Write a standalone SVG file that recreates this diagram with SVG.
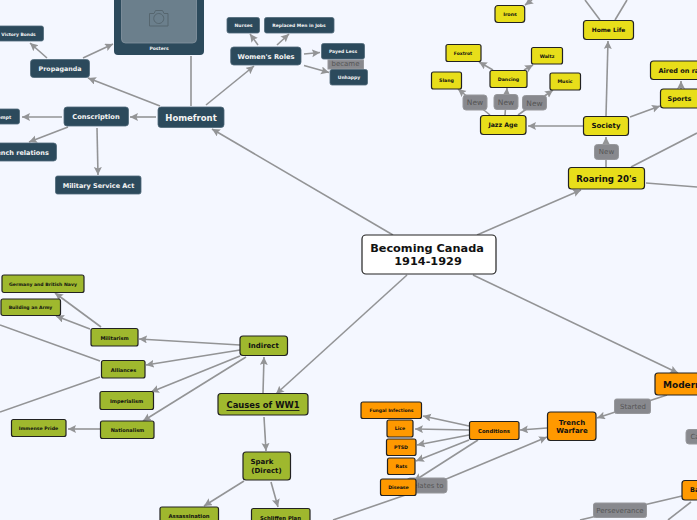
<svg xmlns="http://www.w3.org/2000/svg" width="697" height="520" viewBox="0 0 697 520">
<style>
text{font-family:"DejaVu Sans",Verdana,sans-serif;font-weight:700;text-anchor:middle;dominant-baseline:central}
.c line{stroke:#939496;stroke-width:1.600;fill:none}
.a{marker-end:url(#arr)}
.b rect{fill:#2c4a5c;stroke:#4f6878;stroke-width:.8}
.b text{fill:#f4f4f4}
.y rect{fill:#e8de1a;stroke:#222;stroke-width:1.200}
.y text{fill:#111}
.g rect{fill:#9fb82e;stroke:#222;stroke-width:1.200}
.g text{fill:#111}
.o rect{fill:#ff9900;stroke:#222;stroke-width:1.200}
.o text{fill:#111}
.l rect{fill:#88898e;stroke:#97989c;stroke-width:1}
.l text{fill:#555;font-weight:400}
</style>
<defs>
<marker id="arr" markerUnits="userSpaceOnUse" markerWidth="10" markerHeight="10" refX="8" refY="4" orient="auto"><path d="M0 0L8 4L0 8L1.500 4Z" fill="#939496"/></marker>
</defs>
<rect width="697" height="520" fill="#f4f7ff"/>
<g id="connectors" class="c">
<line class="a" x1="393" y1="235" x2="212" y2="129"/>
<line class="a" x1="477" y1="235" x2="581" y2="190"/>
<line class="a" x1="407" y1="275" x2="276" y2="394"/>
<line class="a" x1="473" y1="275" x2="678" y2="373"/>
<line class="a" x1="160" y1="106" x2="88" y2="78"/>
<line x1="191" y1="56" x2="191" y2="106"/>
<line class="a" x1="156" y1="117" x2="130" y2="117"/>
<line class="a" x1="206" y1="105" x2="254" y2="66"/>
<line class="a" x1="47" y1="58" x2="30" y2="43"/>
<line class="a" x1="83" y1="58" x2="113" y2="44"/>
<line class="a" x1="62" y1="117" x2="22" y2="117"/>
<line class="a" x1="68" y1="127" x2="29" y2="142"/>
<line class="a" x1="97" y1="128" x2="98" y2="175"/>
<line class="a" x1="258" y1="45" x2="250" y2="34"/>
<line class="a" x1="277" y1="45" x2="289" y2="34"/>
<line class="a" x1="304" y1="54" x2="320" y2="52.500"/>
<line class="a" x1="304" y1="65.500" x2="329" y2="72.500"/>
<line class="a" x1="606" y1="116" x2="608" y2="41"/>
<line x1="600" y1="20" x2="585" y2="0"/>
<line x1="615" y1="20" x2="627" y2="0"/>
<line class="a" x1="532" y1="0" x2="525" y2="5"/>
<line class="a" x1="583" y1="126" x2="528" y2="126"/>
<line class="a" x1="630" y1="117" x2="660" y2="106"/>
<line class="a" x1="681" y1="89" x2="681" y2="81"/>
<line class="a" x1="606" y1="167" x2="606" y2="137"/>
<line x1="631" y1="167" x2="697" y2="133"/>
<line x1="646" y1="183" x2="697" y2="187"/>
<line class="a" x1="490" y1="115" x2="458" y2="89"/>
<line class="a" x1="505" y1="115" x2="507" y2="88"/>
<line class="a" x1="518" y1="115" x2="553" y2="90"/>
<line class="a" x1="493" y1="70" x2="479" y2="62"/>
<line class="a" x1="524" y1="70" x2="533" y2="65"/>
<line class="a" x1="240" y1="345" x2="139" y2="339"/>
<line class="a" x1="240" y1="350" x2="146" y2="365"/>
<line class="a" x1="240" y1="356" x2="151" y2="392"/>
<line class="a" x1="246" y1="357" x2="143" y2="421"/>
<line class="a" x1="263" y1="393" x2="264" y2="357"/>
<line class="a" x1="264" y1="417" x2="266" y2="451"/>
<line class="a" x1="244" y1="481" x2="204" y2="506"/>
<line class="a" x1="271" y1="482" x2="278" y2="507"/>
<line class="a" x1="101" y1="327" x2="55" y2="293"/>
<line class="a" x1="90" y1="329" x2="56" y2="316"/>
<line x1="100" y1="361" x2="0" y2="325"/>
<line x1="100" y1="377" x2="0" y2="412"/>
<line class="a" x1="100" y1="429" x2="68" y2="429"/>
<line class="a" x1="667" y1="395" x2="597" y2="418"/>
<line class="a" x1="547" y1="428" x2="520" y2="430"/>
<line class="a" x1="469" y1="426" x2="423" y2="416"/>
<line class="a" x1="469" y1="430" x2="415" y2="429"/>
<line class="a" x1="469" y1="435" x2="417" y2="445"/>
<line class="a" x1="469" y1="440" x2="416" y2="461"/>
<line class="a" x1="478" y1="440" x2="414" y2="481"/>
<line x1="333" y1="520" x2="420" y2="490"/>
<line class="a" x1="420" y1="490" x2="547" y2="437"/>
<line x1="682" y1="496" x2="580" y2="520"/>
<line x1="691" y1="502" x2="668" y2="520"/>
</g>
<g id="labels" class="l">
<g id="lbl-became"><rect x="328" y="60" width="35.500" height="9"/><text x="345.500" y="64" font-size="7">became</text></g>
<g id="lbl-new1"><rect x="463" y="95" width="24" height="15" rx="3"/><text x="475" y="102.500" font-size="7.500">New</text></g>
<g id="lbl-new2"><rect x="494" y="94.500" width="24" height="15" rx="3"/><text x="506" y="102" font-size="7.500">New</text></g>
<g id="lbl-new3"><rect x="522.500" y="95.500" width="24" height="14.500" rx="3"/><text x="534.500" y="103" font-size="7.500">New</text></g>
<g id="lbl-new4"><rect x="594.500" y="144.500" width="24" height="15" rx="3"/><text x="606.500" y="152" font-size="7">New</text></g>
<g id="lbl-started"><rect x="614.500" y="399" width="36" height="14.500" rx="2"/><text x="633" y="406.500" font-size="7">Started</text></g>
<g id="lbl-relates"><rect x="407" y="478" width="40" height="15" rx="3"/><text x="427" y="485.500" font-size="7">relates to</text></g>
<g id="lbl-perseverance"><rect x="593.500" y="503" width="53" height="14.500" rx="2"/><text x="620" y="510.500" font-size="7">Perseverance</text></g>
<g id="lbl-ca"><rect x="686" y="429.500" width="20" height="14.500" rx="3"/><text x="695" y="437" font-size="7">Ca</text></g>
</g>
<g class="b">
<g id="n-posters"><rect x="114" y="-10" width="90" height="65" rx="4" style="stroke:none"/><rect x="121.500" y="-10" width="75" height="53" rx="4" style="fill:#6b7f8c;stroke:#8696a1"/><path d="M149.500 13.500h4.500l1.500-3h7l1.500 3h4v12.500h-18.500z M158.700 13.500a5 5 0 1 0 0.100 0z" fill="none" stroke="#56666f" stroke-width="1"/><text x="159" y="48" font-size="4.500">Posters</text></g>
<g id="n-homefront"><rect x="158" y="107" width="66" height="20.500" rx="3"/><text x="191" y="117.500" font-size="8.500">Homefront</text></g>
<g id="n-conscription"><rect x="64" y="107" width="64.500" height="19" rx="3"/><text x="96" y="116.500" font-size="6.700">Conscription</text></g>
<g id="n-propaganda"><rect x="30.500" y="59.500" width="59" height="18" rx="3"/><text x="60" y="68.500" font-size="6.300">Propaganda</text></g>
<g id="n-victory"><rect x="-10" y="26" width="53.500" height="15" rx="2"/><text x="18.500" y="34" font-size="4.400">Victory Bonds</text></g>
<g id="n-exempt"><rect x="-20" y="109" width="39.500" height="15" rx="2"/><text x="1" y="117" font-size="4.800">Exempt</text></g>
<g id="n-french"><rect x="-30" y="143" width="86.500" height="18" rx="3"/><text x="19" y="152.500" font-size="6.500">French relations</text></g>
<g id="n-msa"><rect x="55.500" y="176" width="85.500" height="18" rx="2"/><text x="98.500" y="185.500" font-size="6.500">Military Service Act</text></g>
<g id="n-women"><rect x="230.700" y="47" width="70.300" height="18" rx="3"/><text x="266" y="56.500" font-size="6.700">Women's Roles</text></g>
<g id="n-nurses"><rect x="227" y="17.500" width="32.500" height="15.500" rx="2"/><text x="243.500" y="25.500" font-size="4.600">Nurses</text></g>
<g id="n-replaced"><rect x="264.500" y="17.500" width="69.500" height="15.500" rx="2"/><text x="299" y="25.500" font-size="4.450">Replaced Men in Jobs</text></g>
<g id="n-payed"><rect x="321.500" y="43.500" width="43" height="15.500" rx="2"/><text x="343" y="51.500" font-size="4.500">Payed Less</text></g>
<g id="n-unhappy"><rect x="330" y="69.500" width="37.500" height="15.500" rx="2"/><text x="349" y="77.500" font-size="4.500">Unhappy</text></g>
</g>
<g class="y">
<g id="n-irons"><rect x="495" y="5.500" width="29.700" height="17" rx="3"/><text x="510" y="14" font-size="4.800">Irons</text></g>
<g id="n-homelife"><rect x="583.500" y="20.500" width="50" height="19" rx="3"/><text x="608.500" y="29.500" font-size="5.900">Home Life</text></g>
<g id="n-foxtrot"><rect x="446" y="44.500" width="35" height="17" rx="2"/><text x="463" y="53" font-size="4.500">Foxtrot</text></g>
<g id="n-waltz"><rect x="531.500" y="47.500" width="31" height="16.500" rx="2"/><text x="547" y="56" font-size="4.700">Waltz</text></g>
<g id="n-slang"><rect x="431.500" y="72" width="30" height="17" rx="2"/><text x="446.500" y="80" font-size="4.700">Slang</text></g>
<g id="n-dancing"><rect x="490" y="70.500" width="37" height="17" rx="2"/><text x="508.500" y="79" font-size="4.700">Dancing</text></g>
<g id="n-music"><rect x="550" y="73" width="30.500" height="17" rx="2"/><text x="565" y="81" font-size="4.700">Music</text></g>
<g id="n-jazz"><rect x="480.500" y="115.500" width="45.500" height="19" rx="3"/><text x="503" y="124.500" font-size="6.200">Jazz Age</text></g>
<g id="n-society"><rect x="583.500" y="116.500" width="45" height="19" rx="3"/><text x="606" y="126" font-size="7">Society</text></g>
<g id="n-sports"><rect x="660.500" y="89" width="50" height="19" rx="3"/><text x="679.500" y="98.500" font-size="6.500">Sports</text></g>
<g id="n-radio"><rect x="650.500" y="61" width="80" height="18.500" rx="3"/><text x="658.500" y="71" font-size="6.500" style="text-anchor:start">Aired on radio</text></g>
<g id="n-roaring"><rect x="568.500" y="167.500" width="76" height="21.500" rx="3"/><text x="606.500" y="178.500" font-size="8.600">Roaring 20's</text></g>
</g>
<g class="g">
<g id="n-navy"><rect x="2" y="275" width="82" height="17.500" rx="2"/><text x="43" y="284" font-size="4.600">Germany and British Navy</text></g>
<g id="n-army"><rect x="1" y="299" width="59.500" height="16.500" rx="2"/><text x="30.500" y="307" font-size="4.500">Building an Army</text></g>
<g id="n-militarism"><rect x="91" y="328.500" width="47" height="17.500" rx="2"/><text x="114.500" y="337.500" font-size="5">Militarism</text></g>
<g id="n-alliances"><rect x="101.500" y="360.500" width="43.500" height="17.500" rx="2"/><text x="123.500" y="370" font-size="5">Alliances</text></g>
<g id="n-imperialism"><rect x="100" y="391.500" width="53.500" height="18" rx="2"/><text x="126.500" y="401" font-size="5">Imperialism</text></g>
<g id="n-nationalism"><rect x="100.500" y="421" width="53.500" height="17.500" rx="2"/><text x="127.500" y="430" font-size="5">Nationalism</text></g>
<g id="n-pride"><rect x="11.500" y="419.500" width="54.500" height="17" rx="2"/><text x="38.500" y="428" font-size="4.700">Immense Pride</text></g>
<g id="n-indirect"><rect x="240" y="336" width="47.500" height="19.500" rx="3"/><text x="263.500" y="346" font-size="7">Indirect</text></g>
<g id="n-causes"><rect x="218" y="393.500" width="90" height="21.500" rx="3"/><text x="263" y="405" font-size="8.400" text-decoration="underline">Causes of WW1</text></g>
<g id="n-spark"><rect x="243" y="452" width="47.500" height="28" rx="3"/><text x="262" y="462" font-size="7">Spark</text><text x="266.500" y="470.500" font-size="7">(Direct)</text></g>
<g id="n-assassination"><rect x="160" y="507" width="58.500" height="25" rx="2"/><text x="189" y="516" font-size="5.300">Assassination</text></g>
<g id="n-schliffen"><rect x="251.500" y="508.500" width="58.500" height="25" rx="2"/><text x="280.500" y="518" font-size="5.300">Schliffen Plan</text></g>
</g>
<g class="o">
<g id="n-modern"><rect x="655" y="373" width="80" height="22" rx="3"/><text x="663" y="384.500" font-size="9" style="text-anchor:start">Modern</text></g>
<g id="n-trench"><rect x="547.500" y="412" width="48.500" height="28.500" rx="3"/><text x="572" y="422.500" font-size="7">Trench</text><text x="572" y="430.500" font-size="7">Warfare</text></g>
<g id="n-conditions"><rect x="469.500" y="421.500" width="49.500" height="18" rx="2"/><text x="494" y="431" font-size="5.300">Conditions</text></g>
<g id="n-fungal"><rect x="361" y="402" width="60.500" height="16.500" rx="2"/><text x="391.500" y="410" font-size="4.500">Fungal Infections</text></g>
<g id="n-lice"><rect x="387" y="420" width="26" height="17" rx="2"/><text x="400" y="428" font-size="4.700">Lice</text></g>
<g id="n-ptsd"><rect x="386.500" y="439" width="29.500" height="16.500" rx="2"/><text x="401" y="447" font-size="4.700">PTSD</text></g>
<g id="n-rats"><rect x="387.500" y="458" width="27.500" height="16.500" rx="2"/><text x="401.500" y="466" font-size="4.700">Rats</text></g>
<g id="n-disease"><rect x="380.500" y="479" width="35.500" height="16.500" rx="2"/><text x="398.500" y="487" font-size="4.700">Disease</text></g>
<g id="n-ba"><rect x="682" y="480.500" width="40" height="19.500" rx="3"/><text x="690" y="490" font-size="6.500" style="text-anchor:start">Ba</text></g>
</g>
<g id="n-root"><rect x="362" y="235" width="134" height="39" rx="4" fill="#fff" stroke="#222" stroke-width="1.200"/><text x="427" y="248" font-size="11.300" fill="#111">Becoming Canada</text><text x="428" y="261.500" font-size="11.300" fill="#111">1914-1929</text></g>
</svg>
